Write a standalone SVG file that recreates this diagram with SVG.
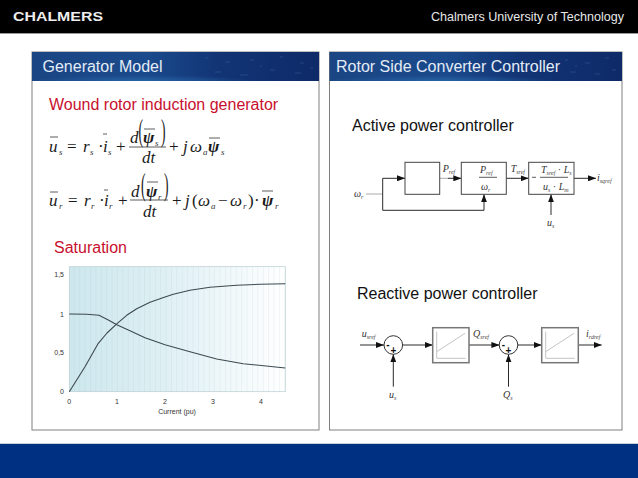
<svg xmlns="http://www.w3.org/2000/svg" width="638" height="478" viewBox="0 0 638 478">
<style>
.sans{font-family:"Liberation Sans",Arial,sans-serif}
.hd{font-family:"Liberation Sans",Arial,sans-serif;font-size:16px;fill:#e4ecf6}
.red{font-family:"Liberation Sans",Arial,sans-serif;font-size:16px;fill:#c8102e}
.blk{font-family:"Liberation Sans",Arial,sans-serif;font-size:16px;fill:#111}
.m{font-family:"Liberation Serif","Times New Roman",serif;font-style:italic;font-size:17px;fill:#1a1a1a}
.mn{font-family:"Liberation Serif","Times New Roman",serif;font-size:17px;fill:#1a1a1a}
.ms{font-family:"Liberation Serif","Times New Roman",serif;font-style:italic;font-size:9px;fill:#333}
.d{font-family:"Liberation Serif","Times New Roman",serif;font-style:italic;font-size:10px;fill:#333}
.ds{font-family:"Liberation Serif","Times New Roman",serif;font-style:italic;font-size:6px;fill:#444}
.tk{font-family:"Liberation Sans",Arial,sans-serif;font-size:7px;fill:#333}
.bar{stroke:#333;stroke-width:.8;fill:none}
.w{stroke:#2a2a2a;stroke-width:1;fill:none}
.g{stroke:#aaa;stroke-width:1;fill:none}
.box{fill:#fff;stroke:#444;stroke-width:1}
.box2{fill:#fff;stroke:#777;stroke-width:1.5}
.curve{fill:none;stroke:#3d4a50;stroke-width:1.1;stroke-linejoin:round}
.panel{fill:#fff;stroke:#808080;stroke-width:1}
</style>
<defs>
<marker id="a" markerUnits="userSpaceOnUse" markerWidth="8" markerHeight="6" refX="8" refY="3" orient="auto"><path d="M0 0L8 3L0 6Z" fill="#111"/></marker>
<linearGradient id="plot" x1="0" x2="1" y1="0" y2="0"><stop offset="0" stop-color="#cde7ed"/><stop offset=".45" stop-color="#dff0f4"/><stop offset="1" stop-color="#fff"/></linearGradient>
<pattern id="st" patternUnits="userSpaceOnUse" x="69.3" y="0" width="5.4" height="10"><path d="M5 0V10" stroke="#8fb9c4" stroke-opacity=".22" stroke-width=".6"/></pattern>
<linearGradient id="hb" x1="0" x2="1" y1="0" y2="0"><stop offset="0" stop-color="#1b4583"/><stop offset=".4" stop-color="#1a4a8c"/><stop offset=".65" stop-color="#123475"/><stop offset="1" stop-color="#0e2a68"/></linearGradient>
<radialGradient id="glow" cx=".38" cy="1" r=".4" gradientTransform="translate(0 .5) scale(1 .5)"><stop offset="0" stop-color="#2a68a8" stop-opacity=".8"/><stop offset="1" stop-color="#2a68a8" stop-opacity="0"/></radialGradient>
</defs>

<rect width="638" height="478" fill="#fff"/>
<g id="topbar"><rect width="638" height="33" fill="#000"/><rect y="33" width="638" height="1" fill="#999"/>
<text class="sans" x="13" y="21" font-size="13" font-weight="bold" fill="#eee" textLength="90" lengthAdjust="spacingAndGlyphs">CHALMERS</text>
<text class="sans" x="431" y="21" font-size="12.5" fill="#e8e8e8" textLength="193" lengthAdjust="spacingAndGlyphs">Chalmers University of Technology</text></g>
<g id="footer"><rect y="444" width="638" height="34" fill="#003082"/><rect y="443" width="638" height="1" fill="#c8d0e0"/></g>

<g id="left-panel"><rect class="panel" x="32" y="52" width="287" height="378"/>
<rect x="32" y="52" width="287" height="29" fill="url(#hb)"/><rect x="32" y="52" width="287" height="29" fill="url(#glow)"/>
<path d="M205 58h3M225 62h5M250 60h4M280 57h3M300 63h4M215 72h6M240 75h8M270 70h5M295 73h6M260 66h2M310 68h3" stroke="#6f93c4" stroke-width=".6" opacity=".4"/>
<text class="hd" x="42.5" y="72">Generator Model</text></g>
<g id="right-panel"><rect class="panel" x="329.5" y="52" width="292.5" height="378"/>
<rect x="329.5" y="52" width="292.5" height="29" fill="url(#hb)"/><rect x="329.5" y="52" width="292.5" height="29" fill="url(#glow)"/>
<path d="M565 60h3M585 63h5M605 58h4M570 72h6M595 74h5M612 70h4M575 66h2" stroke="#6f93c4" stroke-width=".6" opacity=".4"/>
<text class="hd" x="336" y="72">Rotor Side Converter Controller</text></g>

<g id="equations">
<text class="red" x="49" y="110">Wound rotor induction generator</text>
<path class="bar" d="M50 137H58M103 134H107M144 129H155M209 138H220M50 192H58M104 190H108M147 182H158M262 191H273"/>
<path class="bar" d="M129 147H166M130 200H168"/>
<text class="m" x="49" y="152">u</text><text class="ms" x="59" y="155">s</text>
<text class="mn" x="67" y="152">=</text><text class="m" x="83" y="152">r</text><text class="ms" x="90" y="155">s</text>
<text class="mn" x="98" y="152">·</text><text class="m" x="103" y="152">i</text><text class="ms" x="108" y="155">s</text>
<text class="mn" x="116" y="152">+</text>
<text class="m" x="130" y="143">d</text>
<text class="mn" transform="translate(138.5 141) scale(.8 1.85)">(</text><text class="m" font-weight="bold" x="143" y="143">ψ</text><text class="ms" x="155" y="146">s</text><text class="mn" transform="translate(161 141) scale(.8 1.85)">)</text>
<text class="m" x="142" y="163">dt</text>
<text class="mn" x="169" y="152">+</text><text class="m" x="183" y="152">j</text><text class="m" x="190" y="152">ω</text><text class="ms" x="203" y="155">a</text>
<text class="m" font-weight="bold" x="208" y="152">ψ</text><text class="ms" x="221" y="155">s</text>

<text class="m" x="49" y="206">u</text><text class="ms" x="59" y="209">r</text>
<text class="mn" x="68" y="206">=</text><text class="m" x="84" y="206">r</text><text class="ms" x="91" y="209">r</text>
<text class="mn" x="99" y="206">·</text><text class="m" x="104" y="206">i</text><text class="ms" x="109" y="209">r</text>
<text class="mn" x="118" y="206">+</text>
<text class="m" x="131" y="197">d</text>
<text class="mn" transform="translate(141 195) scale(.8 1.85)">(</text><text class="m" font-weight="bold" x="146" y="197">ψ</text><text class="ms" x="158" y="200">r</text><text class="mn" transform="translate(164 195) scale(.8 1.85)">)</text>
<text class="m" x="143" y="217">dt</text>
<text class="mn" x="172" y="206">+</text><text class="m" x="185" y="206">j</text><text class="mn" x="192" y="206">(</text><text class="m" x="198" y="206">ω</text><text class="ms" x="211" y="209">a</text>
<text class="mn" x="218" y="206">−</text><text class="m" x="230" y="206">ω</text><text class="ms" x="243" y="209">r</text><text class="mn" x="248" y="206">)</text><text class="mn" x="254" y="206">·</text>
<text class="m" font-weight="bold" x="262" y="206">ψ</text><text class="ms" x="275" y="209">r</text>
</g>

<g id="chart">
<text class="red" x="54" y="253">Saturation</text>
<rect x="69.3" y="266.7" width="216" height="125" fill="url(#plot)"/>
<rect x="69.3" y="266.7" width="216" height="125" fill="url(#st)"/>
<rect x="69.3" y="266.7" width="216" height="125" fill="none" stroke="#b9cdd2" stroke-width=".7"/>
<path class="curve" d="M69.3 314L86.7 314.3L99 315.3L108.3 320L117.3 325L130 330.7L145 337.7L165 344.7L190 351.7L216.7 359L243.3 363.7L285.3 368"/>
<path class="curve" d="M69.3 391.7L77 379.5L85 366.7L98.3 343.3L107 333L117.3 323.3L126.7 315.3L136.7 308.7L150 302.3L165 297L173.3 294.3L190 290.3L210 287.3L236.7 285.3L260 284.3L285.3 283.7"/>
<g class="tk" text-anchor="end"><text x="64" y="276.5">1,5</text><text x="64" y="316.5">1</text><text x="64" y="354.5">0,5</text><text x="64" y="394">0</text></g>
<g class="tk" text-anchor="middle"><text x="69.3" y="404">0</text><text x="117" y="404">1</text><text x="165" y="404">2</text><text x="213" y="404">3</text><text x="261" y="404">4</text><text x="177" y="414">Current (pu)</text></g>
</g>

<text class="blk" x="352" y="131">Active power controller</text>
<text class="blk" x="357" y="299">Reactive power controller</text>

<g id="connectors">
<path class="g" d="M366 194H382.7M440 178.3H448"/>
<path class="w" d="M382.7 194V178.3H405" marker-end="url(#a)"/>
<path class="w" d="M382.7 194V210.3H484V194.3" marker-end="url(#a)"/>
<path class="w" d="M448 178.3H461.3" marker-end="url(#a)"/>
<path class="w" d="M506.3 178.3H528.7" marker-end="url(#a)"/>
<path class="w" d="M574 178.3H596" marker-end="url(#a)"/>
<path class="w" d="M551 215V194.3" marker-end="url(#a)"/>
<path class="w" d="M360 345H384" marker-end="url(#a)"/>
<path class="w" d="M402.7 345H432.7" marker-end="url(#a)"/>
<path class="w" d="M469 345H499.4" marker-end="url(#a)"/>
<path class="w" d="M518 345H541.7" marker-end="url(#a)"/>
<path class="w" d="M578.3 345H601.7" marker-end="url(#a)"/>
<path class="w" d="M393.3 386.7V354.3" marker-end="url(#a)"/>
<path class="w" d="M508.5 386.7V354.3" marker-end="url(#a)"/>
</g>

<g id="block-1"><rect class="box" x="405" y="162.3" width="34.7" height="32"/></g>
<g id="block-2"><rect class="box" x="461.3" y="162.3" width="45" height="32"/>
<path class="bar" d="M479 177.3H497"/>
<text class="d" x="480" y="173">P<tspan class="ds" dy="2">ref</tspan></text>
<text class="d" x="481" y="190">ω<tspan class="ds" dy="2">r</tspan></text></g>
<g id="block-3"><rect class="box" x="528.7" y="162.3" width="45.3" height="32"/>
<path class="bar" d="M532 177.3H536M540 177.3H568"/>
<text class="d" x="541" y="173">T<tspan class="ds" dy="2">sref</tspan><tspan dy="-2" font-style="normal"> · </tspan>L<tspan class="ds" dy="2">s</tspan></text>
<text class="d" x="543" y="190">u<tspan class="ds" dy="2">s</tspan><tspan dy="-2" font-style="normal"> · </tspan>L<tspan class="ds" dy="2">m</tspan></text></g>
<g id="labels-active">
<text class="d" x="442.7" y="172">P<tspan class="ds" dy="2">ref</tspan></text>
<text class="d" x="510.7" y="172">T<tspan class="ds" dy="2">sref</tspan></text>
<text class="d" x="597" y="181">i<tspan class="ds" dy="2">sqref</tspan></text>
<text class="d" x="354" y="197">ω<tspan class="ds" dy="2">r</tspan></text>
<text class="d" x="547" y="226">u<tspan class="ds" dy="2">s</tspan></text>
</g>

<g id="sum-1"><circle cx="393.3" cy="345" r="9.3" fill="none" stroke="#333"/>
<text class="sans" x="388" y="348" font-size="10" font-weight="bold" text-anchor="middle" fill="#111">-</text>
<text class="sans" x="393.3" y="354" font-size="10" font-weight="bold" text-anchor="middle" fill="#111">+</text></g>
<g id="sum-2"><circle cx="508.5" cy="345" r="9.3" fill="none" stroke="#333"/>
<text class="sans" x="503.5" y="348" font-size="10" font-weight="bold" text-anchor="middle" fill="#111">-</text>
<text class="sans" x="508.5" y="354" font-size="10" font-weight="bold" text-anchor="middle" fill="#111">+</text></g>
<g id="limiter-1"><rect class="box2" x="432.7" y="327.7" width="36.3" height="35"/><path d="M436.7 331.7V358.3H465.7M436.7 351.7L465 333.3" fill="none" stroke="#c4c4c4"/></g>
<g id="limiter-2"><rect class="box2" x="541.7" y="327.7" width="36.6" height="35"/><path d="M545.7 331.7V358.3H574.7M545.7 351.7L574 333.3" fill="none" stroke="#c4c4c4"/></g>
<g id="labels-reactive">
<text class="d" x="361.7" y="337" font-size="11">u<tspan class="ds" dy="2">sref</tspan></text>
<text class="d" x="473" y="337" font-size="11">Q<tspan class="ds" dy="2">sref</tspan></text>
<text class="d" x="586" y="337">i<tspan class="ds" dy="2">rdref</tspan></text>
<text class="d" x="389" y="397.5">u<tspan class="ds" dy="2">s</tspan></text>
<text class="d" x="503" y="397.5" font-size="11">Q<tspan class="ds" dy="2">s</tspan></text>
</g>
</svg>
